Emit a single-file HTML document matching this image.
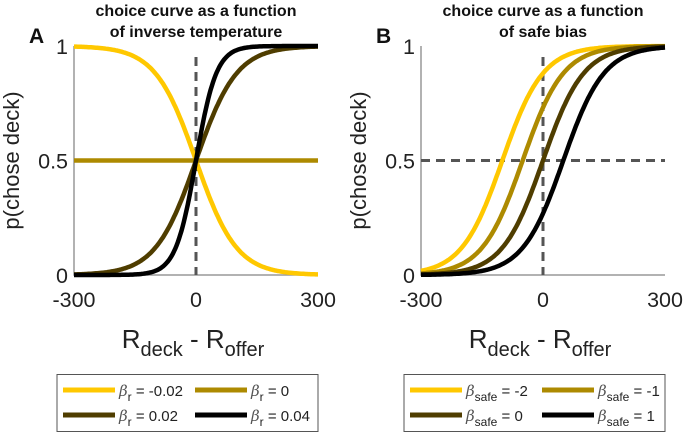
<!DOCTYPE html>
<html><head><meta charset="utf-8"><style>
body{margin:0;background:#fff}
svg{display:block;font-family:"Liberation Sans",sans-serif}
</style></head><body>
<svg id="c" width="685" height="433" viewBox="0 0 685 433"></svg>
<script>
const xTicks=[-300,0,300];
const yTicks=[0,0.5,1];
const yTickLabels=["0","0.5","1"];
const betaR=[-0.02,0,0.02,0.04];
const betaRLabels=["-0.02","0","0.02","0.04"];
const betaSafe=[-2,-1,0,1];
const betaSafeLabels=["-2","-1","0","1"];
const colors=["#FFC800","#AD8A00","#4F3D00","#000000"];
const NS="http://www.w3.org/2000/svg";
const svg=document.getElementById('c');
function el(t,a,p){const e=document.createElementNS(NS,t);for(const k in a)e.setAttribute(k,a[k]);(p||svg).appendChild(e);return e;}
function sig(z){return 1/(1+Math.exp(-z));}
const Y0=275,Y1=46;
function panel(id,L,R,title1,title2,letter,fn,params,labels,sub,hdash){
  const g=el('g',{});  
  const sx=v=>L+(v+300)/600*(R-L), sy=v=>Y0+(Y1-Y0)*v;
  const ax=el('path',{d:`M${L},${Y1} L${L},${Y0} L${R},${Y0}`,stroke:'#999',fill:'none','stroke-width':1.5},g);
   
  xTicks.forEach(t=>{const e=el('text',{x:sx(t),y:307,'text-anchor':'middle','font-size':21.5,fill:'#222'},g);e.textContent=t;
     });
  yTicks.forEach((t,i)=>{const e=el('text',{x:L-6,y:sy(t)+8,'text-anchor':'end','font-size':21.5,fill:'#222'},g);e.textContent=yTickLabels[i];
     });
  const yl=el('text',{transform:`translate(${L-55},${(Y0+Y1)/2}) rotate(-90)`,'text-anchor':'middle','font-size':22,fill:'#222'},g);
  yl.textContent='p(chose deck)';  
  const xl=el('text',{x:(L+R)/2-3,y:348,'text-anchor':'middle','font-size':26,fill:'#222'},g);
  xl.innerHTML='R<tspan dy="8" font-size="20">deck</tspan><tspan dy="-8"> - R</tspan><tspan dy="8" font-size="20">offer</tspan>';
   
  const t1=el('text',{x:(L+R)/2,y:16,'text-anchor':'middle','font-size':16,'font-weight':'bold',fill:'#111'},g);t1.textContent=title1;
   
  const t2=el('text',{x:(L+R)/2,y:37,'text-anchor':'middle','font-size':16,'font-weight':'bold',fill:'#111'},g);t2.textContent=title2;
   
  const lt=el('text',{x:L-45,y:43,'font-size':21,'font-weight':'bold',fill:'#111'},g);lt.textContent=letter;
   
  const vd=el('line',{x1:sx(0),x2:sx(0),y1:57,y2:Y0,stroke:'#555','stroke-width':3,'stroke-dasharray':'9,6'},g);
   
  if(hdash){const hd=el('line',{x1:L,x2:R,y1:sy(0.5),y2:sy(0.5),stroke:'#555','stroke-width':3,'stroke-dasharray':'9,6'},g);
     }
  params.forEach((p,i)=>{let d='';for(let x=-300;x<=300;x+=3){d+=(x==-300?'M':'L')+sx(x).toFixed(1)+','+sy(fn(x,p)).toFixed(1);}
    const c=el('path',{d,stroke:colors[i],'stroke-width':4.5,fill:'none'},g);
     });
  const lx=L-17, lw=261;
  const box=el('rect',{x:lx,y:374.5,width:lw,height:57,fill:'#fff',stroke:'#555','stroke-width':1},g);
   
  params.forEach((p,i)=>{const cx=lx+6+(i%2)*132, cy=390+Math.floor(i/2)*25;
    const ln=el('line',{x1:cx,x2:cx+52,y1:cy,y2:cy,stroke:colors[i],'stroke-width':5},g);
     
    const tx=el('text',{x:cx+56,y:cy+6,'font-size':15,fill:'#222'},g);
    tx.innerHTML=`<tspan font-family="DejaVu Serif" font-style="italic" fill="#555">β</tspan><tspan dy="5" font-size="12">${sub}</tspan><tspan dy="-5"> = ${labels[i]}</tspan>`;
     });
}
panel('a',74,318,'choice curve as a function','of inverse temperature','A',(x,b)=>sig(b*x),betaR,betaRLabels,'r',false);
panel('b',421,665,'choice curve as a function','of safe bias','B',(x,s)=>sig(0.02*x-s),betaSafe,betaSafeLabels,'safe',true);
</script>
</body></html>
